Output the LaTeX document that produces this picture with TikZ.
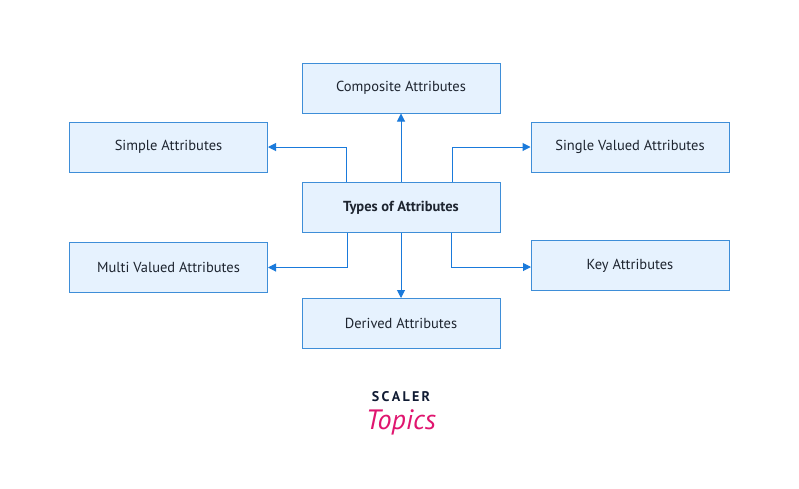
\documentclass[tikz,border=0pt]{standalone}
\usepackage{fontspec}
\setmainfont{PT Sans}
\usetikzlibrary{arrows.meta}
\definecolor{bfill}{HTML}{E6F2FE}
\definecolor{bline}{HTML}{3E8ED8}
\definecolor{aline}{HTML}{1A7ADB}
\definecolor{txt}{HTML}{1E2530}
\definecolor{navy}{HTML}{101B33}
\definecolor{pink}{HTML}{E0156F}
\begin{document}
\begin{tikzpicture}[x=1pt,y=-1pt,
  box/.style={draw=bline,fill=bfill,line width=1pt,minimum width=198pt,minimum height=50pt,inner sep=0pt,font=\fontsize{14.5}{16}\selectfont,text=txt},
  conn/.style={draw=aline,line width=1pt,-{Triangle[length=8pt,width=8pt]}}]
\useasboundingbox[fill=white] (0,0) rectangle (799,488);
\node[box] (comp) at (401,88) {Composite Attributes};
\node[box] (simple) at (168.5,147) {Simple Attributes};
\node[box] (single) at (630,147) {Single Valued Attributes};
\node[box,font=\fontsize{14.5}{16}\selectfont\bfseries] (types) at (401,207.5) {Types of Attributes};
\node[box] (multi) at (168.5,267.5) {Multi Valued Attributes};
\node[box] (key) at (630,265.5) {Key Attributes};
\node[box] (der) at (401,323.5) {Derived Attributes};
\coordinate (t1) at (346,182);
\coordinate (t3) at (452,182);
\coordinate (b1) at (347,233);
\coordinate (b3) at (451,233);
\draw[conn] (types.north) -- (comp.south);
\draw[conn] (types.south) -- (der.north);
\draw[conn] (t1) |- (simple.east);
\draw[conn] (t3) |- (single.west);
\draw[conn] (b1) |- (multi.east);
\draw[conn] (b3) |- (531,267) coordinate (k);
\node[font=\fontsize{14}{16}\selectfont\bfseries,text=navy] (logo) at (401,397) {S\,C\,A\,L\,E\,R};
\node[font=\fontsize{28}{30}\selectfont\itshape,text=pink] (topics) at (401,422) {Topics};
\end{tikzpicture}
\end{document}
